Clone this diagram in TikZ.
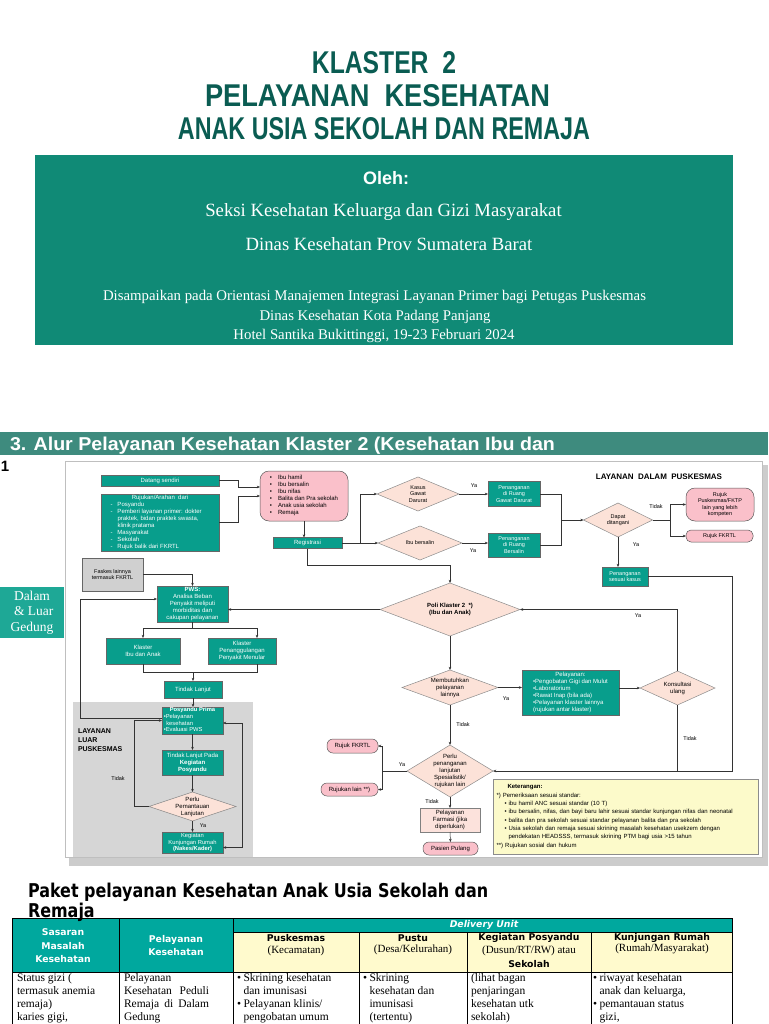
\documentclass[tikz,border=0pt]{standalone}
\usepackage{fontspec}
\usepackage{graphicx}
\usepackage{array}
\setmainfont{Liberation Serif}
\newfontfamily\arial{Liberation Sans}
\newfontfamily\verd{DejaVu Sans}
\usetikzlibrary{shapes.geometric,arrows.meta,calc}
\definecolor{ttldark}{RGB}{10,92,82}
\definecolor{infobox}{RGB}{16,138,118}
\definecolor{barcol}{RGB}{62,139,126}
\definecolor{dalamcol}{RGB}{30,168,150}
\definecolor{fcteal}{RGB}{8,158,140}
\definecolor{pinkf}{RGB}{250,192,202}
\definecolor{diaf}{RGB}{252,226,216}
\definecolor{faskf}{RGB}{208,208,208}
\definecolor{farmf}{RGB}{252,226,220}
\definecolor{ketf}{RGB}{252,250,202}
\definecolor{luarf}{RGB}{214,214,214}
\definecolor{tabteal}{RGB}{0,168,158}
\definecolor{tabyel}{RGB}{255,250,205}
\begin{document}
\begin{tikzpicture}[x=1pt,y=-1pt,
  every node/.style={inner sep=0pt,outer sep=0pt},
  fc/.style={font=\arial\fontsize{6}{7}\selectfont},
  fcs/.style={font=\arial\fontsize{5.5}{6.6}\selectfont},
  fcsm/.style={font=\arial\fontsize{5.8}{6.6}\selectfont},
  fcb/.style={font=\arial\bfseries\fontsize{6}{7}\selectfont},
  lbl/.style={font=\arial\fontsize{5.5}{6}\selectfont},
  tb/.style={fc,draw=black!60,line width=0.4pt,fill=fcteal,text=white,align=center},
  pk/.style={fc,draw=black!65,line width=0.5pt,fill=pinkf,align=center},
  dia/.style={diamond,draw=black!45,fill=diaf,line width=0.5pt},
  arr/.style={draw=black!80,line width=0.5pt,-{Stealth[length=3.2pt,width=2.6pt]}},
  arrb/.style={draw=black!80,line width=0.5pt,{Stealth[length=3.2pt,width=2.6pt]}-{Stealth[length=3.2pt,width=2.6pt]}},
  ln/.style={draw=black!80,line width=0.5pt},
  hd/.style={font=\verd\bfseries\fontsize{9.3}{13.5}\selectfont},
  hs/.style={font=\fontsize{11}{12}\selectfont},
  bd/.style={font=\fontsize{11.5}{13}\selectfont,anchor=north west}
]
\useasboundingbox (0,0) rectangle (768,1024);
\fill[white] (0,0) rectangle (768,1024);

% ---------- Title ----------
\node[anchor=base,text=ttldark] (t1) at (384,74) {\resizebox{144pt}{22pt}{\arial\bfseries KLASTER\ \ 2}};
\node[anchor=base,text=ttldark] (t2) at (377.5,107) {\resizebox{345pt}{22pt}{\arial\bfseries PELAYANAN\ \ KESEHATAN}};
\node[anchor=base,text=ttldark] (t3) at (384,140) {\resizebox{412pt}{22pt}{\arial\bfseries ANAK USIA SEKOLAH DAN REMAJA}};

% ---------- Info box ----------
\node[fill=infobox,minimum width=698pt,minimum height=190pt,anchor=north west] (info) at (35,155) {};
\node[text=white,font=\arial\bfseries\fontsize{18}{20}\selectfont] (oleh) at (386,178) {Oleh:};
\node[text=white,font=\fontsize{18.7}{21}\selectfont] (s1) at (383.5,212) {Seksi Kesehatan Keluarga dan Gizi Masyarakat};
\node[text=white,font=\fontsize{18.7}{21}\selectfont] (s2) at (389,244) {Dinas Kesehatan Prov Sumatera Barat};
\node[text=white,font=\fontsize{14.8}{17}\selectfont] (s3) at (374.5,297) {Disampaikan pada Orientasi Manajemen Integrasi Layanan Primer bagi Petugas Puskesmas};
\node[text=white,font=\fontsize{14.8}{17}\selectfont] (s4) at (375,317) {Dinas Kesehatan Kota Padang Panjang};
\node[text=white,font=\fontsize{14.8}{17}\selectfont] (s5) at (374,336) {Hotel Santika Bukittinggi, 19-23 Februari 2024};

% ---------- Section bar ----------
\node[fill=barcol,anchor=north west,minimum width=768pt,minimum height=23pt] (bar) at (0,432) {};
\node[anchor=base west,text=white] (bart) at (10,450) {\resizebox{545pt}{13.5pt}{\arial\bfseries 3. Alur Pelayanan Kesehatan Klaster 2 (Kesehatan Ibu dan}};
\node[font=\arial\bfseries\fontsize{15}{15}\selectfont] (one) at (5,466) {1};

% ---------- Flowchart frame ----------
\fill[gray!40] (69,465) rectangle (768,866);
\draw[fill=white,draw=gray!50] (65,461) rectangle (762,857);
\fill[luarf] (73,702) rectangle (253,857);

\node[fill=dalamcol,minimum width=64pt,minimum height=51pt,text=white,align=center,font=\fontsize{13.5}{15.5}\selectfont] (dalam) at (32,612.5) {Dalam\\\ \& Luar\\Gedung};

\node[font=\arial\bfseries\fontsize{8}{9}\selectfont] (ldp) at (659,477) {LAYANAN\ \ DALAM\ \ PUSKESMAS};
\node[font=\arial\bfseries\fontsize{7}{9}\selectfont,align=left,anchor=north west] (llp) at (78,729) {LAYANAN\\LUAR\\PUSKESMAS};

% ---------- Flowchart nodes ----------
\node[tb,minimum width=118pt,minimum height=11.5pt] (ds) at (160,480.5) {Datang sendiri};
\node[tb,minimum width=118pt,minimum height=57pt] (ruj) at (160,522.5) {\hyphenpenalty=10000\begin{tabular}{@{}l@{\hspace{5pt}}>{\raggedright\arraybackslash}p{92pt}@{}}\multicolumn{2}{c}{Rujukan/Arahan\ \ dari}\\ -&Posyandu\\ -&Pemberi layanan primer: dokter praktek, bidan praktek swasta, klinik pratama\\ -&Masyarakat\\ -&Sekolah\\ -&Rujuk balik dari FKRTL\end{tabular}};
\node[pk,minimum width=88pt,minimum height=50pt,rounded corners=9pt] (sas) at (304,496) {\begin{tabular}{@{}l@{\hspace{6pt}}l@{}}•&Ibu hamil\\•&Ibu bersalin\\•&Ibu nifas\\•&Balita dan Pra sekolah\\•&Anak usia sekolah\\•&Remaja\end{tabular}};
\node[tb,minimum width=69pt,minimum height=11pt] (reg) at (307.5,543) {Registrasi};
\node[dia,minimum width=82pt,minimum height=34pt,label={[fcs,align=center]center:{Kasus\\Gawat\\Darurat}}] (kgd) at (418,494) {};
\node[dia,minimum width=84pt,minimum height=34pt,label={[fcs]center:{Ibu bersalin}}] (ib) at (420,543) {};
\node[tb,fcs,minimum width=52pt,minimum height=25pt] (pgd) at (514,494) {Penanganan\\di Ruang\\Gawat Darurat};
\node[tb,fcs,minimum width=52pt,minimum height=24pt] (pbs) at (514,545) {Penanganan\\di Ruang\\Bersalin};
\node[dia,minimum width=69pt,minimum height=34pt,label={[fcs,align=center]center:{Dapat\\ditangani}}] (dd) at (618,520) {};
\node[pk,fcs,minimum width=68pt,minimum height=33pt,rounded corners=9pt] (rpk) at (720,504.5) {Rujuk\\Puskesmas/FKTP\\lain yang lebih\\kompeten};
\node[pk,fcs,minimum width=67pt,minimum height=12pt,rounded corners=5pt] (rfk) at (719.5,536) {Rujuk FKRTL};
\node[tb,fcs,minimum width=46pt,minimum height=19pt] (psk) at (625,576.5) {Penanganan\\sesuai kasus};

\node[fcs,draw=black!60,fill=faskf,align=center,minimum width=61pt,minimum height=33pt,line width=0.6pt] (fask) at (112.5,574.5) {Faskes lainnya\\termasuk FKRTL};
\node[tb,minimum width=71pt,minimum height=36pt] (pws) at (192.5,604) {\textbf{PWS:}\\Analisa Beban\\Penyakit meliputi\\morbiditas dan\\cakupan pelayanan};
\node[tb,minimum width=74pt,minimum height=26pt] (kia) at (143,651) {Klaster\\Ibu dan Anak};
\node[tb,minimum width=68pt,minimum height=26pt] (kppm) at (242,651) {Klaster\\Penanggulangan\\Penyakit Menular};
\node[tb,minimum width=58pt,minimum height=17pt] (tl) at (193,689.5) {Tindak Lanjut};
\node[tb,fcsm,minimum width=61pt,minimum height=27pt] (pp) at (192.5,720.5) {\begin{tabular}{@{}l@{}}\multicolumn{1}{c}{\textbf{Posyandu Prima}}\\•Pelayanan\\\hspace{2.5pt}kesehatan\\•Evaluasi PWS\end{tabular}};
\node[tb,minimum width=61pt,minimum height=25pt] (tlp) at (192.5,762.5) {Tindak Lanjut Pada\\\textbf{Kegiatan}\\\textbf{Posyandu}};
\node[dia,minimum width=87pt,minimum height=29pt,label={[fc,align=center]center:{Perlu\\Pemantauan\\Lanjutan}}] (ppl) at (192.5,806.5) {};
\node[tb,fcsm,minimum width=61pt,minimum height=21pt] (kkr) at (192.5,842.5) {Kegiatan\\Kunjungan Rumah\\\textbf{(Nakes/Kader)}};

\node[dia,minimum width=140pt,minimum height=53pt,label={[fcb,align=center]center:{Poli Klaster 2\ \ *)\\(Ibu dan Anak)}}] (poli) at (450,609.5) {};
\node[dia,minimum width=96pt,minimum height=35pt,label={[fc,align=center]center:{Membutuhkan\\pelayanan\\lainnya}}] (mpl) at (450,687.5) {};
\node[tb,minimum width=97pt,minimum height=45pt] (pel) at (570.5,692.5) {\begin{tabular}{@{}l@{}}\multicolumn{1}{c}{Pelayanan:}\\•Pengobatan Gigi dan Mulut\\•Laboratorium\\•Rawat Inap (bila ada)\\•Pelayanan klaster lainnya\\(rujukan antar klaster)\end{tabular}};
\node[dia,minimum width=75pt,minimum height=34pt,label={[fc,align=center]center:{Konsultasi\\ulang}}] (ku) at (677.5,688) {};
\node[dia,minimum width=86pt,minimum height=52pt,label={[fc,align=center]center:{Perlu\\penanganan\\lanjutan\\Spesialistik/\\rujukan lain}}] (pplj) at (450,771) {};
\node[pk,minimum width=51pt,minimum height=14pt,rounded corners=6pt] (rfkb) at (352.5,746) {Rujuk FKRTL};
\node[pk,minimum width=57pt,minimum height=13pt,rounded corners=6pt] (rl) at (349.5,789.5) {Rujukan lain **)};
\node[fc,draw=black!50,fill=farmf,align=center,minimum width=60pt,minimum height=24pt,line width=0.5pt] (farm) at (450,820) {Pelayanan\\Farmasi (jika\\diperlukan)};
\node[pk,minimum width=55pt,minimum height=13pt,rounded corners=6pt] (pul) at (450.5,848.5) {Pasien Pulang};

\node[draw=black!45,fill=ketf,line width=0.5pt,text width=258pt,inner xsep=3.5pt,minimum height=75pt,align=left,font=\arial\fontsize{6}{8.3}\selectfont] (ket) at (625.5,816.5) {\hspace*{11pt}\textbf{Keterangan:}\\
{*)} Pemeriksaan sesuai standar:\\
\hspace*{8pt}• ibu hamil ANC sesuai standar (10 T)\\
\hspace*{8pt}• ibu bersalin, nifas, dan bayi baru lahir sesuai standar kunjungan nifas dan neonatal\\
\hspace*{8pt}• balita dan pra sekolah sesuai standar pelayanan balita dan pra sekolah\\
\hspace*{8pt}\makebox[249pt][s]{• Usia sekolah dan remaja sesuai skrining masalah kesehatan usekzem dengan}\\
\hspace*{12pt}pendekatan HEADSSS, termasuk skrining PTM bagi usia >15 tahun\\
{**)} Rujukan sosial dan hukum};

% ---------- labels ----------
\node[lbl] (ya1) at (474,486) {Ya};
\node[lbl] (ya2) at (473,551) {Ya};
\node[lbl] (ya3) at (636,545) {Ya};
\node[lbl] (ya4) at (638,616) {Ya};
\node[lbl] (ya5) at (506,699) {Ya};
\node[lbl] (ya6) at (402,765) {Ya};
\node[lbl] (ya7) at (203,826) {Ya};
\node[lbl] (td1) at (656,507) {Tidak};
\node[lbl] (td2) at (690,739) {Tidak};
\node[lbl] (td3) at (463,725) {Tidak};
\node[lbl] (td4) at (432,802) {Tidak};
\node[lbl] (td5) at (118,779) {Tidak};

% ---------- connectors ----------
\coordinate (y565) at (0,565);
\coordinate (j2) at (360,543);
\coordinate (j3) at (561,520);
\coordinate (j4) at (670,520);
\coordinate (j5) at (732,771);
\coordinate (j6) at (192.5,628);
\coordinate (j7) at (193,672);
\coordinate (j8) at (382,771);

\draw[arr] (ds.east) -- (238,480.5) |- ($(sas.west)+(0,-9)$);
\draw[arr] (ruj.east) -- (238,522.5) |- (sas.west);
\draw[arr] (sas.south) -- (sas.south |- reg.north);
\draw[ln] (reg.east) -- (j2);
\draw[arr] (j2) |- (kgd.west);
\draw[arr] (j2) -- (ib.west);
\draw[arr] (kgd.east) -- (kgd.east -| pgd.west);
\draw[arr] (ib.east) -- (ib.east -| pbs.west);
\draw[ln] (pgd.east) -| (j3);
\draw[ln] (pbs.east) -| (j3);
\draw[arr] (j3) -- (dd.west);
\draw[ln] (dd.east) -- (j4);
\draw[arr] (j4) |- (rpk.west);
\draw[arr] (j4) |- (rfk.west);
\draw[arr] (dd.south) -- (dd.south |- psk.north);
\draw[arr] (psk.east) -| (j5) -- (pplj.east);
\draw[ln] (ku.south) -- (ku.south |- j5);
\draw[arr] (reg.south) -- (reg.south |- y565) -| (poli.north);

\draw[arr] (fask.east) -| (pws.north);
\draw[arr] (poli.west) -- (poli.west -| pws.east);
\draw[arr] ($(pp.west)+(0,-2)$) -- ++(-82,0) |- ($(pws.west)+(0,-5)$);
\draw[ln] (pws.south) -- (j6);
\draw[arr] (j6) -| (kia.north);
\draw[arr] (j6) -| ($(kppm.north)+(15,0)$);
\draw[ln] (kia.south) |- (j7);
\draw[ln] ($(kppm.south)+(15,0)$) |- (j7);
\draw[arr] (j7) -- (tl.north);
\draw[arr] (tl.south) -- (tl.south |- pp.north);
\draw[arr] (pp.south) -- (tlp.north);
\draw[arr] (tlp.south) -- (ppl.north);
\draw[arr] (ppl.south) -- (kkr.north);
\draw[arr] (ppl.west) -- ++(-15,0) |- (pp.west);
\draw[arrb] ($(kkr.east)+(0,5)$) -- ++(19,0) |- ($(pp.east)+(0,2.5)$);

\draw[arr] (poli.south) -- (mpl.north);
\draw[arr] (mpl.east) -- (mpl.east -| pel.west);
\draw[arr] (pel.east |- ku.west) -- (ku.west);
\draw[arr] (ku.north) |- (poli.east);
\draw[arr] (mpl.south) -- (pplj.north);
\draw[ln] (pplj.west) -- (j8);
\draw[arr] (j8) |- (rfkb.east);
\draw[arr] (j8) |- (rl.east);
\draw[arr] (pplj.south) -- (farm.north);
\draw[arr] (farm.south) -- (pul.north);

% ---------- Table ----------
\fill[tabteal] (12,918) rectangle (233,972);
\fill[tabteal] (233,918) rectangle (732,932);
\fill[tabyel] (233,932) rectangle (732,972);
\draw[line width=1pt] (12,1024) -- (12,918) -- (732,918) -- (732,1024);
\draw[line width=0.8pt] (12,972) -- (732,972);
\draw[line width=0.8pt] (233,932) -- (732,932);
\draw[line width=0.8pt] (119,918) -- (119,1024);
\draw[line width=0.8pt] (233,918) -- (233,1024);
\draw[line width=0.8pt] (359,932) -- (359,1024);
\draw[line width=0.8pt] (467,932) -- (467,1024);
\draw[line width=0.8pt] (591,932) -- (591,1024);

\node[anchor=base west] (pk1) at (28,897) {\scalebox{0.84}[1]{\verd\bfseries\fontsize{19}{23}\selectfont Paket pelayanan Kesehatan Anak Usia Sekolah dan}};
\node[anchor=base west] (pk2) at (28,917) {\scalebox{0.84}[1]{\verd\bfseries\fontsize{19}{23}\selectfont Remaja}};

\node[hd,text=white,align=center] (h1) at (63,946) {Sasaran\\Masalah\\Kesehatan};
\node[hd,text=white,align=center,font=\verd\bfseries\fontsize{9.3}{13}\selectfont] (h2) at (176,945.5) {Pelayanan\\Kesehatan};
\node[text=white,font=\verd\bfseries\itshape\fontsize{9.3}{11}\selectfont] (du) at (484,924.5) {Delivery Unit};
\node[hd] (h3a) at (296,938) {Puskesmas};
\node[hs] (h3b) at (296,950.5) {(Kecamatan)};
\node[hd] (h4a) at (413,938) {Pustu};
\node[hs] (h4b) at (413,950) {(Desa/Kelurahan)};
\node[hd] (h5a) at (529,938) {Kegiatan Posyandu};
\node[hs] (h5b) at (529,951) {(Dusun/RT/RW) atau};
\node[hd] (h5c) at (529,964) {Sekolah};
\node[hd] (h6a) at (662,938) {Kunjungan Rumah};
\node[hs] (h6b) at (662,949) {(Rumah/Masyarakat)};

\node[bd] (c1) at (17,972.5) {\begin{tabular}{@{}l@{}}Status gizi (\\termasuk anemia\\remaja)\\karies gigi,\end{tabular}};
\node[bd] (c2) at (124,972.5) {\begin{tabular}{@{}l@{}}Pelayanan\\\makebox[85pt][s]{Kesehatan Peduli}\\\makebox[85pt][s]{Remaja di Dalam}\\Gedung\end{tabular}};
\node[bd] (c3) at (237,972.5) {\begin{tabular}{@{}l@{\hspace{2.5pt}}l@{}}•&Skrining kesehatan\\&dan imunisasi\\•&Pelayanan klinis/\\&pengobatan umum\end{tabular}};
\node[bd] (c4) at (363,972.5) {\begin{tabular}{@{}l@{\hspace{2.5pt}}l@{}}•&Skrining\\&kesehatan dan\\&imunisasi\\&(tertentu)\end{tabular}};
\node[bd] (c5) at (471,972.5) {\begin{tabular}{@{}l@{}}(lihat bagan\\penjaringan\\kesehatan utk\\sekolah)\end{tabular}};
\node[bd] (c6) at (593,972.5) {\begin{tabular}{@{}l@{\hspace{2.5pt}}l@{}}•&riwayat kesehatan\\&anak dan keluarga,\\•&pemantauan status\\&gizi,\end{tabular}};
\end{tikzpicture}
\end{document}
